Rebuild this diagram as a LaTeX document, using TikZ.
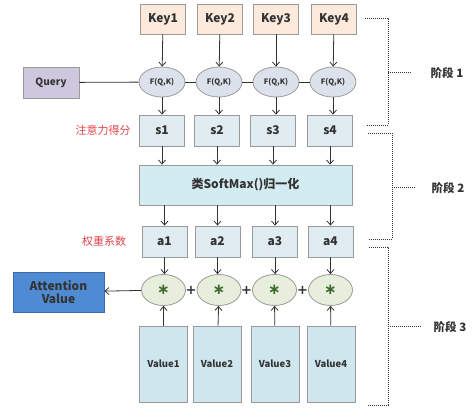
\documentclass[tikz,border=0pt]{standalone}
\usepackage{fontspec}
\setmainfont{Noto Sans CJK SC}
\newfontfamily\symfont{DejaVu Sans}
\usetikzlibrary{arrows.meta,shapes.geometric}
\definecolor{keyfill}{HTML}{FCEBDD}
\definecolor{boxline}{HTML}{9A9A9A}
\definecolor{ffill}{HTML}{DCE2EC}
\definecolor{sfill}{HTML}{E0EBF2}
\definecolor{smfill}{HTML}{D3ECF1}
\definecolor{mfill}{HTML}{E7EEDC}
\definecolor{vfill}{HTML}{CFE6EE}
\definecolor{qfill}{HTML}{CEC8DF}
\definecolor{avfill}{HTML}{4F8BD2}
\definecolor{avline}{HTML}{3A6CA8}
\definecolor{lbl}{HTML}{E0454A}
\definecolor{ink}{HTML}{333333}
\definecolor{star}{HTML}{3F6B2E}
\begin{document}
\begin{tikzpicture}[x=1pt,y=-1pt,
  every node/.style={inner sep=0pt, font=\bfseries, text=ink},
  keybox/.style={draw=boxline, fill=keyfill, line width=0.8pt, minimum width=45pt, minimum height=30pt, font=\bfseries\fontsize{12}{13}\selectfont},
  fbox/.style={ellipse, draw=boxline, fill=ffill, line width=0.8pt, minimum width=46pt, minimum height=30pt, font=\bfseries\fontsize{7.5}{8}\selectfont},
  sbox/.style={draw=boxline, fill=sfill, line width=0.8pt, minimum width=45pt, minimum height=31pt, font=\bfseries\fontsize{12}{13}\selectfont},
  mbox/.style={ellipse, draw=boxline, fill=mfill, line width=0.8pt, minimum width=44pt, minimum height=31pt, font=\symfont\bfseries\fontsize{15}{16}\selectfont, text=star},
  vbox/.style={draw=boxline, fill=vfill, line width=0.8pt, minimum width=48pt, minimum height=76pt, font=\bfseries\fontsize{9.5}{10}\selectfont},
  redlbl/.style={font=\fontsize{11}{12}\selectfont, text=lbl},
  stagelbl/.style={font=\bfseries\fontsize{11.5}{12}\selectfont},
  plus/.style={font=\symfont\bfseries\fontsize{13}{14}\selectfont},
  arr/.style={draw=ink, line width=0.8pt, -{Straight Barb[length=4pt,width=7pt]}},
  link/.style={draw=ink, line width=0.8pt},
  brk/.style={draw=ink, line width=1pt, dash pattern=on 1pt off 1pt}
]
\useasboundingbox (0,0) rectangle (474,413);

% Keys
\node[keybox] (k1) at (163,19) {Key1};
\node[keybox] (k2) at (220,19) {Key2};
\node[keybox] (k3) at (276,19) {Key3};
\node[keybox] (k4) at (334,19) {Key4};

% Query
\node[draw=boxline, fill=qfill, line width=0.8pt, minimum width=56pt, minimum height=31pt, font=\bfseries\fontsize{10}{11}\selectfont] (q) at (51,82.5) {Query};

% F(Q,K)
\node[fbox] (f1) at (162,82) {F(Q,K)};
\node[fbox] (f2) at (219,82) {F(Q,K)};
\node[fbox] (f3) at (276,82) {F(Q,K)};
\node[fbox] (f4) at (333,82) {F(Q,K)};

% s
\node[sbox] (s1) at (162,130.5) {s1};
\node[sbox] (s2) at (217,130.5) {s2};
\node[sbox] (s3) at (273,130.5) {s3};
\node[sbox] (s4) at (330,130.5) {s4};
\node[redlbl] (l1) at (103,130) {注意力得分};

% softmax
\node[draw=boxline, fill=smfill, line width=0.8pt, minimum width=213pt, minimum height=40pt, font=\bfseries\fontsize{12}{13}\selectfont] (sm) at (245.5,185) {类SoftMax()归一化};

% a
\node[sbox] (a1) at (164.5,241.5) {a1};
\node[sbox] (a2) at (217.5,241.5) {a2};
\node[sbox] (a3) at (275,241.5) {a3};
\node[sbox] (a4) at (330.5,241.5) {a4};
\node[redlbl] (l2) at (104,241) {权重系数};

% multiply
\node[mbox] (m1) at (163.5,290) {∗};
\node[mbox] (m2) at (219,290) {∗};
\node[mbox] (m3) at (274.5,290) {∗};
\node[mbox] (m4) at (330.5,290) {∗};
\node[plus] (p1) at (191,290) {+};
\node[plus] (p2) at (246.5,290) {+};
\node[plus] (p3) at (302.5,290) {+};

% values
\node[vbox] (v1) at (163.5,364) {Value1};
\node[vbox] (v2) at (217,364) {Value2};
\node[vbox] (v3) at (275,364) {Value3};
\node[vbox] (v4) at (331,364) {Value4};

% attention value
\node[draw=avline, fill=avfill, line width=0.8pt, minimum width=91pt, minimum height=40pt, align=center, font=\bfseries\fontsize{12}{13}\selectfont, text=ink] (av) at (58.5,292) {Attention\\Value};

% connectors
\foreach \i in {1,2,3,4}{
  \draw[arr] (k\i) -- (f\i);
  \draw[arr] (f\i) -- (f\i |- s\i.north);
  \draw[arr] (s\i) -- (s\i |- sm.north);
  \draw[arr] (a\i |- sm.south) -- (a\i);
  \draw[arr] (a\i) -- (a\i |- m\i.north);
  \draw[arr] (v\i) -- (m\i);
}
\draw[link] (q) -- (f1);
\draw[link] (f1) -- (f2);
\draw[link] (f2) -- (f3);
\draw[link] (f3) -- (f4);
\draw[arr] (m1) -- (av);

% brackets
\coordinate (b1a) at (365,18); \coordinate (b1b) at (388,18);
\coordinate (b1c) at (388,125); \coordinate (b1d) at (366,125);
\coordinate (b1m) at (388,72); \coordinate (b1t) at (411,72);
\draw[brk] (b1a) -- (b1b) -- (b1c) -- (b1d);
\draw[brk] (b1m) -- (b1t);
\node[stagelbl] (st1) at (447,73) {阶段 1};

\coordinate (b2a) at (368,133); \coordinate (b2b) at (392,133);
\coordinate (b2c) at (392,239); \coordinate (b2d) at (369,239);
\coordinate (b2m) at (392,187); \coordinate (b2t) at (415,187);
\draw[brk] (b2a) -- (b2b) -- (b2c) -- (b2d);
\draw[brk] (b2m) -- (b2t);
\node[stagelbl] (st2) at (448,188) {阶段 2};

\coordinate (b3a) at (369,247); \coordinate (b3b) at (388,247);
\coordinate (b3c) at (388,405); \coordinate (b3d) at (368,405);
\coordinate (b3m) at (388,326); \coordinate (b3t) at (422,326);
\draw[brk] (b3a) -- (b3b) -- (b3c) -- (b3d);
\draw[brk] (b3m) -- (b3t);
\node[stagelbl] (st3) at (450,327) {阶段 3};
\end{tikzpicture}
\end{document}
